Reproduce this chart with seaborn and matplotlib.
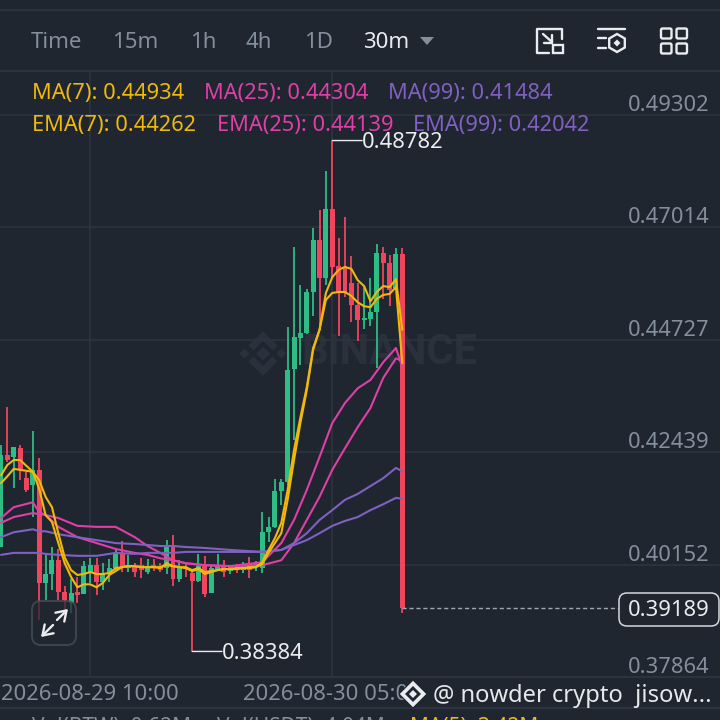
import numpy as np
import pandas as pd
import seaborn as sns
import matplotlib
matplotlib.use('Agg')
import matplotlib.pyplot as plt
from matplotlib.patches import FancyBboxPatch, Rectangle, RegularPolygon

BG = '#1f2630'
GRID = '#2d343e'
GREY = '#848e9c'
UP = '#2ebd85'
DOWN = '#f0465d'
GOLD = '#f0b90b'
PINK = '#e03fa8'
PURPLE = '#8060c0'
MARK = '#2a313c'

# candles, 30m
opens = [.4051, .4238, .4234, .4252, .4191, .4177, .4208, .3978, .3996, .4024, .3959, .3937, .3959, .3955, .4000, .4014,
         .3980, .3998, .4008, .4037, .4008, .4010, .4014, .4000, .4014, .4010, .4008, .4055, .3986, .4010, .3998, .3982,
         .4012, .3957, .4006, .4012, .4002, .4010, .4004, .4016, .4010, .4008, .4081, .4092, .4165, .4183, .4413, .4476,
         .4486, .4570, .4676, .4598, .4739, .4623, .4621, .4588, .4543, .4513, .4515, .4529, .4649, .4629, .4578, .4647]
highs = [.4258, .4336, .4254, .4258, .4204, .4287, .4232, .4035, .4051, .4047, .3971, .3986, .3990, .4022, .4028, .4028,
         .4018, .4027, .4045, .4063, .4035, .4018, .4028, .4027, .4027, .4018, .4065, .4075, .4024, .4018, .4004, .4037,
         .4033, .4014, .4037, .4024, .4014, .4016, .4020, .4031, .4022, .4122, .4112, .4189, .4189, .4499, .4661, .4584,
         .4576, .4700, .4737, .4816, .48782, .4680, .4722, .4643, .4588, .4580, .4598, .4668, .4661, .4645, .4659, .4659]
lows = [.4051, .4224, .4171, .4187, .4163, .4112, .3902, .3943, .3963, .3943, .3902, .3917, .3937, .3955, .3978, .3953,
        .3963, .3980, .4002, .4000, .4000, .3990, .3988, .3996, .4002, .4000, .3996, .3971, .3980, .3990, .38384, .3980,
        .3949, .3957, .4004, .3990, .3996, .3998, .3998, .3988, .4002, .3998, .4061, .4089, .4136, .4177, .4269, .4421,
        .4484, .4521, .4493, .4584, .4598, .4480, .4560, .4509, .4470, .4495, .4501, .4415, .4556, .4541, .4574, .3917]
closes = [.4238, .4228, .4254, .4208, .4167, .4208, .3978, .3996, .4024, .3959, .3943, .3957, .3953, .4012, .4014, .3980,
          .3998, .4008, .4037, .4010, .4014, .4000, .4004, .4010, .4008, .4004, .4055, .3986, .4010, .4006, .3982, .4012,
          .3955, .4008, .4014, .4000, .4010, .4004, .4010, .4004, .4016, .4081, .4092, .4165, .4183, .4411, .4478, .4486,
          .4570, .4676, .4598, .4739, .4621, .4568, .4568, .4543, .4513, .4517, .4529, .4649, .4629, .4574, .4647, .3927]

ma7 = [.4197, .4218, .4228, .4228, .4216, .4204, .4169, .4116, .4102, .4059, .4018, .3990, .3969, .3975, .3975, .3969,
       .3978, .3994, .4002, .4010, .4012, .4012, .4010, .4010, .4010, .4008, .4018, .4012, .4010, .4008, .4002, .4006,
       .3996, .4000, .4004, .4006, .4006, .4006, .4008, .4008, .4010, .4016, .4039, .4059, .4079, .4147, .4228, .4303,
       .4370, .4452, .4493, .4568, .4600, .4615, .4621, .4617, .4594, .4582, .4551, .4570, .4582, .4580, .4596, .4493]
ema7 = [.4181, .4195, .4210, .4208, .4206, .4204, .4187, .4153, .4132, .4079, .4030, .4004, .3994, .3996, .4000, .3996,
        .3996, .3998, .4008, .4010, .4012, .4012, .4010, .4010, .4010, .4010, .4014, .4012, .4010, .4010, .4004, .4008,
        .4000, .4002, .4004, .4006, .4006, .4008, .4008, .4010, .4010, .4020, .4045, .4069, .4100, .4167, .4248, .4315,
        .4376, .4456, .4493, .4554, .4568, .4570, .4570, .4562, .4549, .4541, .4539, .4556, .4564, .4566, .4580, .4425]

# slower averages, only at the candles where they bend
slow_idx = [0, 2, 5, 6, 7, 9, 12, 15, 18, 21, 23, 25, 27, 29, 32, 36, 41, 44, 46, 48, 50, 52, 54, 56, 58, 60, 62, 63]
ma25 = [.4100, .4112, .4120, .4118, .4116, .4110, .4094, .4092, .4092, .4071, .4053, .4039, .4024, .4018,
        .4014, .4012, .4014, .4024, .4059, .4106, .4153, .4208, .4252, .4295, .4334, .4395, .4435, .4429]
ema25 = [.4110, .4132, .4142, .4122, .4116, .4092, .4071, .4059, .4047, .4039, .4035, .4028, .4024, .4018,
         .4014, .4012, .4020, .4059, .4106, .4167, .4234, .4303, .4344, .4374, .4391, .4427, .4456, .4417]
ma99 = [.4035, .4039, .4039, .4039, .4037, .4035, .4033, .4033, .4039, .4037, .4039, .4039, .4039, .4041,
        .4041, .4041, .4041, .4045, .4055, .4065, .4079, .4094, .4104, .4112, .4126, .4138, .4151, .4149]
ema99 = [.4071, .4081, .4087, .4083, .4083, .4077, .4071, .4065, .4059, .4057, .4055, .4053, .4053, .4051,
         .4049, .4045, .4041, .4045, .4059, .4079, .4106, .4126, .4147, .4159, .4175, .4191, .4212, .4205]

price_ticks = [.49302, .47014, .44727, .42439, .40152, .37864]
time_ticks = [14, 52]
time_labels = ['2026-08-29 10:00', '2026-08-30 05:00']
last_label = '0.39189'

sns.set_theme(style='dark', rc={'figure.facecolor': BG, 'axes.facecolor': BG})
plt.rcParams['font.family'] = ['Noto Sans', 'DejaVu Sans']

fig = plt.figure(figsize=(7.2, 7.2), dpi=100)


def pixel_axes(z):
    a = fig.add_axes([0, 0, 1, 1], facecolor='none', zorder=z)
    a.set_xlim(0, 720)
    a.set_ylim(720, 0)
    a.axis('off')
    return a


# watermark goes under the candles
back = pixel_axes(0)
for pts in ([(251, 348), (263, 336), (275, 348)], [(251, 359), (263, 371), (275, 359)]):
    back.plot(*zip(*pts), color=MARK, lw=5, solid_joinstyle='miter', solid_capstyle='butt')
for cx, r in [(263, 7), (244.5, 5), (281.5, 5)]:
    back.add_patch(RegularPolygon((cx, 353.5), 4, radius=r, fc=MARK, ec='none'))
back.text(301, 353, 'BINANCE', color=MARK, fontsize=30, fontweight='bold', family='Roboto', va='center', ha='left')

# price panel, y=72..677 px of the picture
ax = fig.add_axes([0, 43 / 720, 1, 605 / 720], facecolor='none', zorder=1)
ax.set_xlim(-0.157, 112.87)
ax.set_ylim(0.37864, 0.50177)
ax.set_yticks(price_ticks)
ax.set_xticks(time_ticks)
ax.set_xticklabels([])
ax.set_yticklabels([])
ax.tick_params(length=0)
ax.grid(True, color=GRID, lw=1.2)
ax.set_axisbelow(True)
for s in ax.spines.values():
    s.set_visible(False)

df = pd.DataFrame({'open': opens, 'high': highs, 'low': lows, 'close': closes})
df['color'] = np.where(df['close'] >= df['open'], UP, DOWN)
ax.vlines(df.index, df['low'], df['high'], colors=df['color'], lw=1.3, zorder=2)
ax.bar(df.index, (df['close'] - df['open']).abs(), bottom=df[['open', 'close']].min(axis=1),
       width=0.78, color=df['color'], lw=0, zorder=2)

for vals, col in [(ma25, PINK), (ema25, PINK), (ma99, PURPLE), (ema99, PURPLE)]:
    sns.lineplot(x=slow_idx, y=vals, color=col, lw=1.5, ax=ax, estimator=None, zorder=3)
for vals in (ma7, ema7):
    sns.lineplot(x=df.index, y=vals, color=GOLD, lw=1.5, ax=ax, estimator=None, zorder=4)
ax.set_xlabel('')
ax.set_ylabel('')

# high/low markers
hi = int(np.argmax(highs))
lo = int(np.argmin(lows))
for i, v, txt in [(hi, highs[hi], '0.48782'), (lo, lows[lo], '0.38384')]:
    ax.annotate(txt, xy=(i, v), xytext=(21.5, -1.5), textcoords='offset points', color='#eaecef', fontsize=15.8,
                va='center', ha='left', zorder=6)
    ax.annotate('', xy=(i, v), xytext=(21.5, 0), textcoords='offset points',
                arrowprops=dict(arrowstyle='-', color='#eaecef', lw=1, shrinkA=0, shrinkB=0), zorder=6)

# price labels sit just above their grid lines
for p in price_ticks:
    ax.annotate(f'{p:.5f}', xy=(0.985, p), xycoords=ax.get_yaxis_transform(), xytext=(0, -0.7),
                textcoords='offset points', ha='right', va='bottom', color=GREY, fontsize=15.8, zorder=5)

# last price dashed line
ax.hlines(closes[-1], len(closes) - 1, 96.9, colors='#a0a6ae', lw=1, linestyles=(0, (3, 2)), zorder=3)

# everything else in picture pixels
ui = pixel_axes(2)

for y in (10, 71, 677, 708):
    ui.axhline(y, color=GRID, lw=1.4)

# top bar
for x, t in [(31, 'Time'), (112, '15m'), (190, '1h'), (245, '4h'), (304, '1D')]:
    ui.text(x, 43, t, color=GREY, fontsize=16, va='center', ha='left')
ui.text(363, 43, '30m', color='#eaecef', fontsize=16, fontweight='bold', va='center', ha='left')
ui.fill([420, 434, 427], [37, 37, 45], color=GREY, lw=0)

# toolbar icons
ICON = '#eaecef'
ui.plot([549, 537, 537, 562, 562], [53, 53, 28.5, 28.5, 39], color=ICON, lw=1.7, solid_joinstyle='round')
ui.add_patch(Rectangle((553, 44.5), 9.5, 8.5, fc='none', ec=ICON, lw=1.7))
ui.plot([543, 552], [34, 42], color=ICON, lw=1.7)
ui.plot([552, 552, 544], [35, 42.5, 42.5], color=ICON, lw=1.7)
ui.plot([598, 625], [29, 29], color=ICON, lw=1.7)
ui.plot([598, 606], [38, 38], color=ICON, lw=1.7)
ui.plot([598, 606], [48, 48], color=ICON, lw=1.7)
ui.add_patch(RegularPolygon((617, 43), 6, radius=9, fc='none', ec=ICON, lw=1.7))
ui.add_patch(RegularPolygon((617, 43), 4, radius=3.5, fc=ICON, ec='none'))
for x in (661, 676.5):
    for y in (28, 43):
        ui.add_patch(FancyBboxPatch((x, y + 0.5), 10.5, 10, boxstyle='round,pad=0,rounding_size=1.5', fc='none', ec=ICON, lw=1.7))

# indicator values
for x, y, t, col in [(32, 94, 'MA(7): 0.44934', GOLD), (204, 94, 'MA(25): 0.44304', PINK), (388, 94, 'MA(99): 0.41484', PURPLE),
                     (32, 126, 'EMA(7): 0.44262', GOLD), (217, 126, 'EMA(25): 0.44139', PINK), (413, 126, 'EMA(99): 0.42042', PURPLE)]:
    ui.text(x, y, t, color=col, fontsize=15.7, va='center', ha='left')

# last price box
ui.add_patch(FancyBboxPatch((619, 593), 100, 33, boxstyle='round,pad=0,rounding_size=8', fc=BG, ec='#d5d8dc', lw=1.1, zorder=5))
ui.text(669, 611, last_label, color='#eaecef', fontsize=15.8, va='center', ha='center', zorder=6)

# expand button
ui.add_patch(FancyBboxPatch((32, 601), 44, 44, boxstyle='round,pad=0,rounding_size=9', fc=BG, alpha=0.72, ec='#4a515b', lw=1.4, zorder=5))
for tip, tail in [((41, 637), (53, 625)), ((68, 609), (57, 620))]:
    ui.annotate('', xy=tip, xytext=tail, zorder=6,
                arrowprops=dict(arrowstyle='->,head_length=0.45,head_width=0.3', color='#eaecef', lw=1.7, shrinkA=0, shrinkB=0, mutation_scale=15))

# time axis and overlay
for i, t in zip(time_ticks, time_labels):
    ui.text(1 + 6.37 * i, 695, t, color=GREY, fontsize=15.9, va='center', ha='center')
ui.add_patch(RegularPolygon((413, 694), 4, radius=14, fc='#eaecef', ec=BG, lw=0.8, zorder=7))
ui.add_patch(RegularPolygon((413, 694), 4, radius=8, fc=BG, ec='none', zorder=7))
ui.add_patch(RegularPolygon((413, 694), 4, radius=4, fc='#eaecef', ec='none', zorder=7))
ui.text(433, 696, '@ nowder crypto  jisow...', color='#e6e8ea', fontsize=17.1, va='center', ha='left', zorder=7)

# volume row, cut off by the bottom edge
for x, t, col in [(32, 'Vol(BTW): 0.62M', GREY), (217, 'Vol(USDT): 4.04M', GREY), (410, 'MA(5): 3.42M', GOLD)]:
    ui.text(x, 728, t, color=col, fontsize=15, va='center', ha='left', clip_on=True)

fig.savefig('out.png', dpi=100, facecolor=BG)
